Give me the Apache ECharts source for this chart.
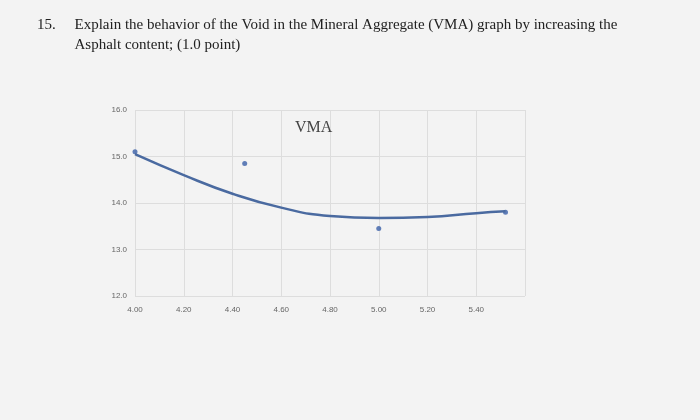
<!DOCTYPE html>
<html><head><meta charset="utf-8">
<script src="https://cdn.jsdelivr.net/npm/echarts@6/dist/echarts.min.js"></script>
<style>body{margin:0;background:#f3f3f3}#c{width:700px;height:420px}</style>
</head><body><div id="c"></div>
<script>
var questionLines = ["15.     Explain the behavior of the Void in the Mineral Aggregate (VMA) graph by increasing the", "          Asphalt content; (1.0 point)"];
var chartTitle = "VMA";
var scatterX = [4.00, 4.45, 5.00, 5.52];
var scatterY = [15.1, 14.85, 13.45, 13.8];
var trendX = [4.00, 4.20, 4.40, 4.60, 4.80, 5.00, 5.20, 5.40, 5.52];
var trendY = [15.05, 14.6, 14.2, 13.9, 13.72, 13.68, 13.7, 13.78, 13.82];
var c = echarts.init(document.getElementById('c'));
c.setOption({
  backgroundColor: '#f3f3f3',
  title: [
    {text: questionLines.join('\n'), left: 32, top: 10, textStyle: {fontFamily: 'Liberation Serif', fontSize: 15, fontWeight: 'normal', color: '#222', lineHeight: 20}},
    {text: chartTitle, left: 290, top: 115, textStyle: {fontFamily: 'Liberation Serif', fontSize: 16, fontWeight: 'normal', color: '#444'}}
  ],
  grid: {left: 135, right: 175, top: 110, bottom: 124},
  xAxis: {type: 'value', min: 4.0, max: 5.6, interval: 0.2,
    axisLine: {show: false}, axisTick: {show: false},
    splitLine: {lineStyle: {color: '#ddd'}},
    axisLabel: {fontSize: 8, color: '#666', margin: 10, formatter: function(v){return v > 5.5 ? '' : v.toFixed(2);}}},
  yAxis: {type: 'value', min: 12, max: 16, interval: 1,
    axisLine: {show: false}, axisTick: {show: false},
    splitLine: {lineStyle: {color: '#ddd'}},
    axisLabel: {fontSize: 8, color: '#666', formatter: function(v){return v.toFixed(1);}}},
  series: [
    {type: 'line', smooth: true, symbol: 'none', data: trendX.map(function(x,i){return [x, trendY[i]];}), lineStyle: {color: '#4a6aa0', width: 2.5}},
    {type: 'scatter', symbolSize: 5, data: scatterX.map(function(x,i){return [x, scatterY[i]];}), itemStyle: {color: '#3a5fa8'}}
  ]
});
</script></body></html>
